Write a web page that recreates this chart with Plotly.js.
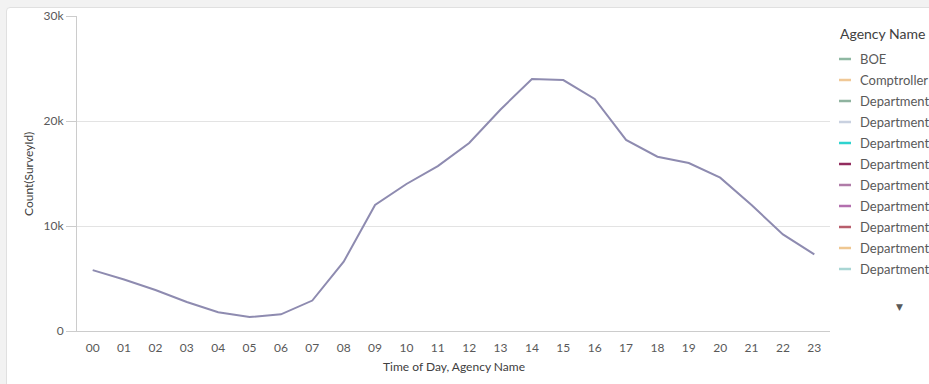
<!DOCTYPE html>
<html>
<head>
<meta charset="utf-8">
<script src="https://cdn.plot.ly/plotly-3.0.1.min.js"></script>
<style>
  html, body { margin:0; padding:0; background:#f2f2f2; width:929px; height:384px; overflow:hidden; }
  #card { position:absolute; left:6px; top:7px; width:1000px; height:500px; background:#ffffff; border:1px solid #e0e0e0; border-radius:4px; }
  #chart { position:absolute; left:0; top:0; width:929px; height:384px; }
</style>
</head>
<body>
<div id="card"></div>
<div id="chart"></div>
<script>
// Data
const hours = ["00","01","02","03","04","05","06","07","08","09","10","11",
               "12","13","14","15","16","17","18","19","20","21","22","23"];
const surveyCounts = [5800, 4900, 3900, 2760, 1780, 1330, 1590, 2900, 6600, 12000, 14000, 15700,
                      17900, 21100, 24000, 23900, 22100, 18200, 16600, 16000, 14600, 12000, 9200, 7300];
const yTickVals = [0, 10000, 20000, 30000];
const yTickText = ["0", "10k", "20k", "30k"];
const agencyNames = ["BOE", "Comptroller of the City", "Department of Buildings",
  "Department of City Planning", "Department of Consumer Affairs", "Department of Correction",
  "Department of Design and Construction", "Department of Education", "Department of Environmental Protection",
  "Department of Finance", "Department of Health"];
const agencyColors = ["#8fb8a2", "#f0c896", "#8fb39f", "#c9d1e0", "#2ed3cf", "#922c5e",
  "#b07ca8", "#b36fae", "#b85e6c", "#efc791", "#a9d6d4"];

const W = 929, H = 384;
const mL = 77, mR = 99, mT = 16, mB = 53;
const pw = W - mL - mR, ph = H - mT - mB;
function px(x) { return (x - mL) / pw; }
function py(y) { return (H - mB - y) / ph; }

const font = "Lato, 'Source Sans Pro', 'Noto Sans', sans-serif";

const traces = [{
  type: "scatter",
  mode: "lines",
  x: hours,
  y: surveyCounts,
  line: { color: "#8e8bb0", width: 2 },
  showlegend: false,
  hoverinfo: "x+y"
}];

// Legend (Qlik style) built from the agency arrays
const shapes = [];
const annotations = [
  {
    xref: "paper", yref: "paper", x: px(838), y: py(33),
    xanchor: "left", yanchor: "middle", showarrow: false,
    text: "Agency Name", font: { family: font, size: 14, color: "#404040" }
  },
  {
    xref: "paper", yref: "paper", x: px(454), y: py(366),
    xanchor: "center", yanchor: "middle", showarrow: false,
    text: "Time of Day, Agency Name", font: { family: font, size: 12, color: "#404040" }
  },
  {
    xref: "paper", yref: "paper", x: px(28), y: py(174),
    xanchor: "center", yanchor: "middle", showarrow: false, textangle: -90,
    text: "Count(SurveyId)", font: { family: font, size: 12, color: "#404040" }
  }
];
agencyNames.forEach((name, i) => {
  const yc = 59 + i * 21;
  shapes.push({
    type: "line", xref: "paper", yref: "paper",
    x0: px(839), x1: px(851), y0: py(yc), y1: py(yc),
    line: { color: agencyColors[i], width: 2.5 }
  });
  annotations.push({
    xref: "paper", yref: "paper", x: px(858), y: py(yc),
    xanchor: "left", yanchor: "middle", showarrow: false,
    text: name, font: { family: font, size: 13, color: "#595959" }
  });
});
annotations.push({
  xref: "paper", yref: "paper", x: px(900), y: py(307),
  xanchor: "center", yanchor: "middle", showarrow: false,
  text: "▼", font: { family: "DejaVu Sans", size: 9, color: "#595959" }
});

const layout = {
  width: W, height: H,
  margin: { l: mL, r: mR, t: mT, b: mB, autoexpand: false },
  paper_bgcolor: "rgba(0,0,0,0)",
  plot_bgcolor: "#ffffff",
  font: { family: font, size: 12, color: "#595959" },
  showlegend: false,
  xaxis: {
    type: "category",
    range: [-0.5, 23.5],
    showline: true, linecolor: "#cccccc", linewidth: 1,
    showgrid: false, zeroline: false,
    ticks: "outside", ticklen: 6, tickcolor: "rgba(0,0,0,0)",
    tickfont: { family: font, size: 12, color: "#595959" },
    title: { text: "" }
  },
  yaxis: {
    range: [0, 30000],
    tickvals: yTickVals, ticktext: yTickText,
    showline: true, linecolor: "#cccccc", linewidth: 1,
    showgrid: true, gridcolor: "#e3e3e3", gridwidth: 1,
    zeroline: false,
    ticks: "outside", ticklen: 10, tickcolor: "#cccccc",
    tickfont: { family: font, size: 12, color: "#595959" },
    title: { text: "" }
  },
  shapes: shapes,
  annotations: annotations
};

Plotly.newPlot("chart", traces, layout, { displayModeBar: false });
</script>
</body>
</html>
